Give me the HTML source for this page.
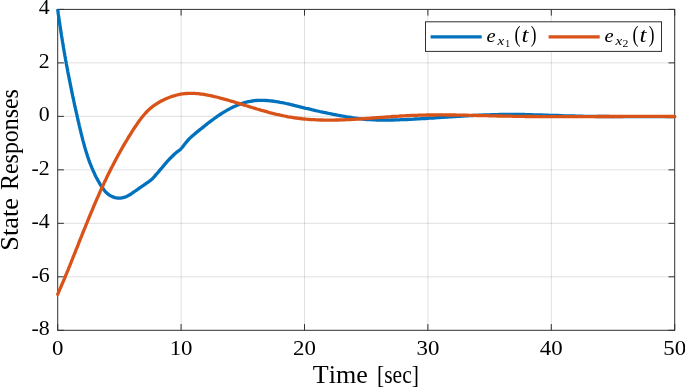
<!DOCTYPE html>
<html><head><meta charset="utf-8"><style>
html,body{margin:0;padding:0;background:#fff;}
svg{display:block;}
text{font-family:"Liberation Serif",serif;fill:#000;font-kerning:none;}
</style></head><body>
<svg width="685" height="389" viewBox="0 0 685 389">
<rect width="685" height="389" fill="#fff"/>
<g stroke="#262626" stroke-opacity="0.14" stroke-width="1"><line x1="181.10" y1="9.4" x2="181.10" y2="330.3"/><line x1="304.50" y1="9.4" x2="304.50" y2="330.3"/><line x1="427.90" y1="9.4" x2="427.90" y2="330.3"/><line x1="551.30" y1="9.4" x2="551.30" y2="330.3"/><line x1="57.7" y1="62.88" x2="674.7" y2="62.88"/><line x1="57.7" y1="116.37" x2="674.7" y2="116.37"/><line x1="57.7" y1="169.85" x2="674.7" y2="169.85"/><line x1="57.7" y1="223.33" x2="674.7" y2="223.33"/><line x1="57.7" y1="276.82" x2="674.7" y2="276.82"/></g>
<g stroke="#303030" stroke-width="1"><line x1="57.70" y1="330.3" x2="57.70" y2="324.10"/><line x1="57.70" y1="9.4" x2="57.70" y2="15.60"/><line x1="181.10" y1="330.3" x2="181.10" y2="324.10"/><line x1="181.10" y1="9.4" x2="181.10" y2="15.60"/><line x1="304.50" y1="330.3" x2="304.50" y2="324.10"/><line x1="304.50" y1="9.4" x2="304.50" y2="15.60"/><line x1="427.90" y1="330.3" x2="427.90" y2="324.10"/><line x1="427.90" y1="9.4" x2="427.90" y2="15.60"/><line x1="551.30" y1="330.3" x2="551.30" y2="324.10"/><line x1="551.30" y1="9.4" x2="551.30" y2="15.60"/><line x1="674.70" y1="330.3" x2="674.70" y2="324.10"/><line x1="674.70" y1="9.4" x2="674.70" y2="15.60"/><line x1="57.7" y1="9.40" x2="63.90" y2="9.40"/><line x1="674.7" y1="9.40" x2="668.50" y2="9.40"/><line x1="57.7" y1="62.88" x2="63.90" y2="62.88"/><line x1="674.7" y1="62.88" x2="668.50" y2="62.88"/><line x1="57.7" y1="116.37" x2="63.90" y2="116.37"/><line x1="674.7" y1="116.37" x2="668.50" y2="116.37"/><line x1="57.7" y1="169.85" x2="63.90" y2="169.85"/><line x1="674.7" y1="169.85" x2="668.50" y2="169.85"/><line x1="57.7" y1="223.33" x2="63.90" y2="223.33"/><line x1="674.7" y1="223.33" x2="668.50" y2="223.33"/><line x1="57.7" y1="276.82" x2="63.90" y2="276.82"/><line x1="674.7" y1="276.82" x2="668.50" y2="276.82"/><line x1="57.7" y1="330.30" x2="63.90" y2="330.30"/><line x1="674.7" y1="330.30" x2="668.50" y2="330.30"/></g>
<rect x="57.7" y="9.4" width="617.0" height="320.9" fill="none" stroke="#303030" stroke-width="1"/>
<clipPath id="cp"><rect x="0" y="9.2" width="685" height="380"/></clipPath>
<g clip-path="url(#cp)">
<polyline fill="none" stroke="#0072BD" stroke-width="3.3" stroke-linejoin="round" stroke-linecap="round" points="57.7,9.5 58.0,11.5 58.2,13.5 58.5,15.6 58.8,17.6 59.1,19.6 59.4,21.6 59.7,23.6 60.0,25.6 60.3,27.6 60.6,29.6 60.9,31.6 61.2,33.6 61.5,35.6 61.9,37.7 62.2,39.7 62.5,41.7 62.9,43.7 63.2,45.7 63.5,47.7 63.9,49.7 64.2,51.7 64.6,53.7 64.9,55.7 65.3,57.7 65.6,59.7 66.0,61.7 66.3,63.7 66.7,65.7 67.1,67.7 67.5,69.7 67.8,71.7 68.2,73.7 68.6,75.6 69.0,77.6 69.4,79.6 69.8,81.6 70.2,83.6 70.6,85.6 71.0,87.6 71.4,89.6 71.8,91.6 72.2,93.6 72.6,95.5 73.0,97.5 73.5,99.5 73.9,101.5 74.3,103.5 74.7,105.5 75.2,107.5 75.6,109.5 76.1,111.4 76.5,113.4 77.0,115.4 77.4,117.4 77.9,119.4 78.3,121.4 78.8,123.3 79.2,125.3 79.7,127.3 80.2,129.3 80.7,131.3 81.1,133.2 81.6,135.2 82.1,137.2 82.6,139.2 83.1,141.1 83.7,143.1 84.2,145.1 84.7,147.0 85.3,149.0 85.9,150.9 86.5,152.9 87.1,154.8 87.7,156.7 88.4,158.6 89.0,160.6 89.7,162.4 90.5,164.3 91.2,166.2 92.0,168.1 92.8,169.9 93.6,171.8 94.5,173.6 95.3,175.5 96.2,177.3 97.2,179.1 98.2,180.9 99.2,182.6 100.2,184.4 101.3,186.1 102.5,187.8 103.7,189.5 104.9,191.1 106.3,192.6 107.8,193.9 109.4,195.1 111.1,196.1 113.0,196.9 114.9,197.6 116.9,198.0 118.9,198.1 120.9,198.0 122.8,197.7 124.7,197.2 126.6,196.4 128.4,195.5 130.2,194.5 131.9,193.4 133.6,192.2 135.3,191.0 137.0,189.8 138.7,188.6 140.4,187.4 142.0,186.3 143.7,185.2 145.3,184.1 147.0,182.9 148.6,181.8 150.2,180.6 151.9,179.3 153.4,177.7 154.8,176.1 156.2,174.4 157.7,172.8 159.1,171.1 160.5,169.4 161.9,167.8 163.3,166.1 164.7,164.4 166.1,162.8 167.5,161.2 169.0,159.6 170.5,158.0 172.1,156.5 173.6,155.0 175.2,153.5 176.9,152.1 178.6,150.8 180.4,149.5 181.7,148.0 183.0,146.4 184.2,144.8 185.5,143.2 186.8,141.7 188.1,140.2 189.4,138.7 190.8,137.3 192.3,136.0 193.8,134.7 195.3,133.4 196.9,132.1 198.4,130.9 200.0,129.6 201.6,128.4 203.2,127.1 204.8,125.8 206.3,124.6 207.9,123.3 209.5,122.1 211.1,120.9 212.7,119.7 214.3,118.5 216.0,117.3 217.6,116.2 219.2,115.1 220.9,114.0 222.6,112.9 224.3,111.8 226.0,110.8 227.7,109.8 229.5,108.9 231.3,107.9 233.1,107.0 235.0,106.2 236.8,105.4 238.7,104.6 240.7,103.9 242.6,103.2 244.5,102.6 246.5,102.1 248.4,101.7 250.4,101.3 252.4,101.0 254.3,100.7 256.3,100.5 258.3,100.4 260.3,100.4 262.2,100.4 264.2,100.4 266.2,100.5 268.2,100.6 270.2,100.8 272.2,101.0 274.2,101.3 276.2,101.6 278.1,101.9 280.1,102.3 282.1,102.6 284.1,103.0 286.1,103.5 288.1,103.9 290.1,104.4 292.1,104.8 294.0,105.3 296.0,105.8 298.0,106.3 300.0,106.8 301.9,107.3 303.9,107.8 305.9,108.3 307.8,108.7 309.8,109.2 311.7,109.7 313.7,110.1 315.6,110.6 317.6,111.0 319.5,111.5 321.4,111.9 323.4,112.3 325.3,112.7 327.3,113.1 329.2,113.5 331.2,113.9 333.1,114.3 335.1,114.7 337.1,115.1 339.1,115.5 341.1,115.8 343.0,116.2 345.0,116.5 347.0,116.9 349.0,117.2 351.0,117.5 353.0,117.8 355.0,118.1 357.0,118.4 359.1,118.7 361.1,118.9 363.1,119.1 365.1,119.3 367.1,119.5 369.1,119.6 371.1,119.7 373.1,119.8 375.1,119.9 377.1,120.0 379.1,120.0 381.1,120.1 383.1,120.1 385.2,120.1 387.2,120.1 389.2,120.1 391.2,120.0 393.2,120.0 395.2,119.9 397.2,119.9 399.2,119.8 401.2,119.7 403.2,119.6 405.2,119.6 407.2,119.5 409.2,119.4 411.2,119.3 413.3,119.2 415.3,119.0 417.3,118.9 419.3,118.8 421.3,118.7 423.3,118.6 425.3,118.5 427.3,118.3 429.3,118.2 431.3,118.1 433.3,118.0 435.3,117.8 437.4,117.7 439.4,117.6 441.4,117.4 443.4,117.3 445.4,117.2 447.4,117.0 449.4,116.9 451.4,116.8 453.4,116.7 455.4,116.5 457.4,116.4 459.4,116.3 461.5,116.2 463.5,116.0 465.5,115.9 467.5,115.8 469.5,115.7 471.5,115.6 473.5,115.5 475.5,115.4 477.5,115.3 479.6,115.2 481.6,115.1 483.6,115.0 485.6,114.9 487.6,114.9 489.6,114.8 491.6,114.7 493.6,114.7 495.6,114.6 497.6,114.6 499.7,114.5 501.7,114.5 503.7,114.5 505.7,114.5 507.7,114.4 509.7,114.4 511.7,114.4 513.7,114.4 515.8,114.4 517.8,114.5 519.8,114.5 521.8,114.5 523.8,114.5 525.8,114.6 527.8,114.6 529.8,114.7 531.8,114.7 533.9,114.8 535.9,114.8 537.9,114.9 539.9,115.0 541.9,115.0 543.9,115.1 545.9,115.1 547.9,115.2 549.9,115.3 552.0,115.3 554.0,115.4 556.0,115.5 558.0,115.5 560.0,115.6 562.0,115.7 564.0,115.8 566.0,115.8 568.0,115.9 570.1,115.9 572.1,116.0 574.1,116.0 576.1,116.1 578.1,116.1 580.1,116.2 582.1,116.2 584.1,116.3 586.2,116.3 588.2,116.3 590.2,116.4 592.2,116.4 594.2,116.4 596.2,116.5 598.2,116.5 600.2,116.5 602.3,116.5 604.3,116.5 606.3,116.5 608.3,116.5 610.3,116.6 612.3,116.6 614.3,116.6 616.3,116.6 618.4,116.6 620.4,116.6 622.4,116.6 624.4,116.6 626.4,116.6 628.4,116.6 630.4,116.6 632.4,116.6 634.5,116.6 636.5,116.6 638.5,116.6 640.5,116.6 642.5,116.6 644.5,116.6 646.5,116.6 648.5,116.6 650.5,116.6 652.6,116.6 654.6,116.6 656.6,116.6 658.6,116.6 660.6,116.6 662.6,116.6 664.6,116.6 666.6,116.7 668.7,116.7 670.7,116.7 672.7,116.7 674.7,116.7"/>
<polyline fill="none" stroke="#D95319" stroke-width="3.3" stroke-linejoin="round" stroke-linecap="round" points="57.7,294.3 58.5,292.4 59.3,290.6 60.1,288.7 60.9,286.9 61.7,285.0 62.5,283.2 63.3,281.3 64.1,279.4 64.9,277.6 65.6,275.7 66.4,273.8 67.2,271.9 68.0,270.1 68.7,268.2 69.5,266.3 70.2,264.5 71.0,262.6 71.7,260.7 72.5,258.8 73.2,256.9 74.0,255.1 74.8,253.2 75.5,251.3 76.2,249.4 77.0,247.6 77.8,245.7 78.5,243.8 79.2,241.9 80.0,240.0 80.7,238.2 81.5,236.3 82.2,234.4 83.0,232.5 83.7,230.6 84.5,228.8 85.3,226.9 86.0,225.0 86.8,223.1 87.5,221.3 88.3,219.4 89.1,217.5 89.8,215.7 90.6,213.8 91.4,211.9 92.2,210.1 93.0,208.2 93.7,206.3 94.5,204.5 95.3,202.6 96.1,200.8 96.9,198.9 97.8,197.0 98.6,195.2 99.4,193.3 100.2,191.5 101.0,189.7 101.9,187.8 102.7,186.0 103.6,184.2 104.4,182.3 105.3,180.5 106.2,178.7 107.0,176.8 107.9,175.0 108.8,173.2 109.7,171.4 110.6,169.6 111.5,167.8 112.5,166.0 113.4,164.2 114.3,162.4 115.3,160.6 116.2,158.8 117.2,157.0 118.1,155.2 119.1,153.5 120.1,151.7 121.1,149.9 122.1,148.2 123.1,146.4 124.1,144.7 125.1,142.9 126.2,141.2 127.2,139.5 128.2,137.7 129.3,136.0 130.4,134.3 131.4,132.6 132.5,130.9 133.6,129.2 134.7,127.5 135.9,125.8 137.0,124.1 138.1,122.5 139.3,120.8 140.5,119.2 141.7,117.6 143.0,116.0 144.3,114.5 145.6,113.0 147.0,111.5 148.4,110.1 149.9,108.7 151.5,107.4 153.1,106.2 154.8,105.0 156.5,103.9 158.2,102.8 160.0,101.8 161.8,100.8 163.6,99.9 165.4,99.0 167.2,98.2 169.1,97.5 171.0,96.8 172.9,96.1 174.8,95.6 176.7,95.0 178.7,94.6 180.6,94.2 182.6,93.9 184.6,93.7 186.5,93.5 188.5,93.4 190.5,93.3 192.5,93.4 194.5,93.4 196.5,93.6 198.5,93.7 200.5,94.0 202.5,94.2 204.5,94.5 206.5,94.9 208.5,95.3 210.5,95.7 212.5,96.1 214.5,96.6 216.5,97.0 218.4,97.5 220.4,98.1 222.3,98.6 224.3,99.1 226.2,99.7 228.2,100.2 230.1,100.8 232.0,101.3 233.9,101.9 235.8,102.5 237.7,103.1 239.7,103.7 241.6,104.3 243.5,104.9 245.4,105.5 247.3,106.0 249.2,106.6 251.1,107.2 253.0,107.8 255.0,108.4 256.9,109.0 258.8,109.5 260.8,110.1 262.7,110.7 264.7,111.2 266.6,111.7 268.6,112.3 270.5,112.8 272.5,113.3 274.5,113.8 276.4,114.3 278.4,114.7 280.4,115.2 282.4,115.6 284.4,116.0 286.3,116.4 288.3,116.8 290.3,117.1 292.3,117.4 294.3,117.8 296.3,118.0 298.3,118.3 300.3,118.5 302.3,118.8 304.3,119.0 306.2,119.2 308.2,119.3 310.2,119.5 312.2,119.6 314.2,119.7 316.2,119.8 318.2,119.9 320.2,120.0 322.2,120.0 324.3,120.1 326.3,120.1 328.3,120.1 330.3,120.1 332.3,120.1 334.3,120.1 336.3,120.0 338.3,120.0 340.3,119.9 342.3,119.8 344.3,119.8 346.4,119.7 348.4,119.6 350.4,119.5 352.4,119.4 354.4,119.3 356.4,119.2 358.4,119.0 360.4,118.9 362.4,118.8 364.5,118.6 366.5,118.5 368.5,118.3 370.5,118.2 372.5,118.0 374.6,117.9 376.6,117.7 378.6,117.6 380.6,117.4 382.6,117.3 384.6,117.1 386.6,117.0 388.7,116.8 390.7,116.7 392.7,116.5 394.7,116.4 396.7,116.3 398.8,116.2 400.8,116.0 402.8,115.9 404.8,115.8 406.8,115.7 408.8,115.6 410.8,115.5 412.9,115.4 414.9,115.3 416.9,115.3 418.9,115.2 420.9,115.2 422.9,115.1 424.9,115.1 427.0,115.0 429.0,115.0 431.0,115.0 433.0,115.0 435.0,115.0 437.0,114.9 439.0,114.9 441.1,114.9 443.1,114.9 445.1,114.9 447.1,115.0 449.1,115.0 451.1,115.0 453.1,115.0 455.1,115.0 457.1,115.1 459.1,115.1 461.2,115.1 463.2,115.2 465.2,115.2 467.2,115.2 469.2,115.3 471.2,115.3 473.2,115.4 475.2,115.4 477.3,115.5 479.3,115.5 481.3,115.6 483.3,115.6 485.3,115.7 487.3,115.7 489.3,115.8 491.3,115.8 493.4,115.9 495.4,115.9 497.4,116.0 499.4,116.0 501.4,116.0 503.4,116.1 505.4,116.1 507.4,116.2 509.5,116.2 511.5,116.2 513.5,116.3 515.5,116.3 517.5,116.3 519.5,116.4 521.5,116.4 523.6,116.4 525.6,116.5 527.6,116.5 529.6,116.5 531.6,116.5 533.6,116.5 535.6,116.5 537.7,116.6 539.7,116.6 541.7,116.6 543.7,116.6 545.7,116.6 547.7,116.6 549.8,116.6 551.8,116.6 553.8,116.6 555.8,116.6 557.8,116.6 559.8,116.6 561.9,116.6 563.9,116.6 565.9,116.6 567.9,116.6 569.9,116.6 571.9,116.6 574.0,116.6 576.0,116.6 578.0,116.6 580.0,116.6 582.0,116.6 584.0,116.6 586.0,116.6 588.1,116.6 590.1,116.6 592.1,116.6 594.1,116.6 596.1,116.6 598.1,116.5 600.2,116.5 602.2,116.5 604.2,116.5 606.2,116.5 608.2,116.5 610.2,116.5 612.3,116.5 614.3,116.5 616.3,116.5 618.3,116.5 620.3,116.5 622.3,116.5 624.4,116.4 626.4,116.4 628.4,116.4 630.4,116.4 632.4,116.4 634.4,116.4 636.5,116.4 638.5,116.4 640.5,116.4 642.5,116.4 644.5,116.4 646.5,116.4 648.5,116.4 650.5,116.4 652.6,116.4 654.6,116.4 656.6,116.4 658.6,116.4 660.6,116.4 662.6,116.4 664.6,116.4 666.6,116.5 668.7,116.5 670.7,116.5 672.7,116.5 674.7,116.5"/>
</g>
<g font-size="20.8"><text transform="translate(57.70,355.0) scale(1.1,1)" text-anchor="middle">0</text><text transform="translate(181.10,355.0) scale(1.1,1)" text-anchor="middle">10</text><text transform="translate(304.50,355.0) scale(1.1,1)" text-anchor="middle">20</text><text transform="translate(427.90,355.0) scale(1.1,1)" text-anchor="middle">30</text><text transform="translate(551.30,355.0) scale(1.1,1)" text-anchor="middle">40</text><text transform="translate(674.70,355.0) scale(1.1,1)" text-anchor="middle">50</text><text transform="translate(49.6,14.10) scale(1.05,1)" text-anchor="end">4</text><text transform="translate(49.6,67.58) scale(1.05,1)" text-anchor="end">2</text><text transform="translate(49.6,121.07) scale(1.05,1)" text-anchor="end">0</text><text transform="translate(49.6,174.55) scale(1.05,1)" text-anchor="end">-2</text><text transform="translate(49.6,228.03) scale(1.05,1)" text-anchor="end">-4</text><text transform="translate(49.6,281.52) scale(1.05,1)" text-anchor="end">-6</text><text transform="translate(49.6,335.00) scale(1.05,1)" text-anchor="end">-8</text></g>
<text transform="translate(312.83,383.30) scale(1.0676,1)" font-size="24.4">Time</text><text transform="translate(377.00,383.30) scale(0.8862,1)" font-size="24.4">[sec]</text><text transform="translate(17.50,0) rotate(-90) translate(-250.77,0) scale(1.0818,1)" font-size="24.4">State</text><text transform="translate(17.50,0) rotate(-90) translate(-189.89,0) scale(0.9780,1)" font-size="24.4">Responses</text>
<rect x="425.5" y="21.8" width="236" height="29.6" fill="#fff" stroke="#303030" stroke-width="1"/>
<line x1="430.6" y1="36.9" x2="481.7" y2="36.9" stroke="#0072BD" stroke-width="3.3"/>
<line x1="548.6" y1="36.9" x2="599.7" y2="36.9" stroke="#D95319" stroke-width="3.3"/>
<text transform="translate(486.57,41.50) scale(1.1070,1)" font-size="18.5" font-style="italic">e</text><text transform="translate(497.38,44.60) scale(1.1574,1)" font-size="12.9" font-style="italic">x</text><text transform="translate(505.15,46.50) scale(0.9855,1)" font-size="9.8">1</text><text transform="translate(514.51,42.00) scale(0.7960,1)" font-size="22.5">(</text><text transform="translate(521.39,41.50) scale(1.1562,1)" font-size="21.8" font-style="italic">t</text><text transform="translate(530.75,42.00) scale(0.7614,1)" font-size="22.5">)</text><text transform="translate(604.57,41.50) scale(1.1070,1)" font-size="18.5" font-style="italic">e</text><text transform="translate(615.38,44.60) scale(1.1574,1)" font-size="12.9" font-style="italic">x</text><text transform="translate(622.58,46.60) scale(1.1964,1)" font-size="9.8">2</text><text transform="translate(632.51,42.00) scale(0.7960,1)" font-size="22.5">(</text><text transform="translate(639.39,41.50) scale(1.1562,1)" font-size="21.8" font-style="italic">t</text><text transform="translate(648.75,42.00) scale(0.7614,1)" font-size="22.5">)</text>
</svg>
</body></html>
